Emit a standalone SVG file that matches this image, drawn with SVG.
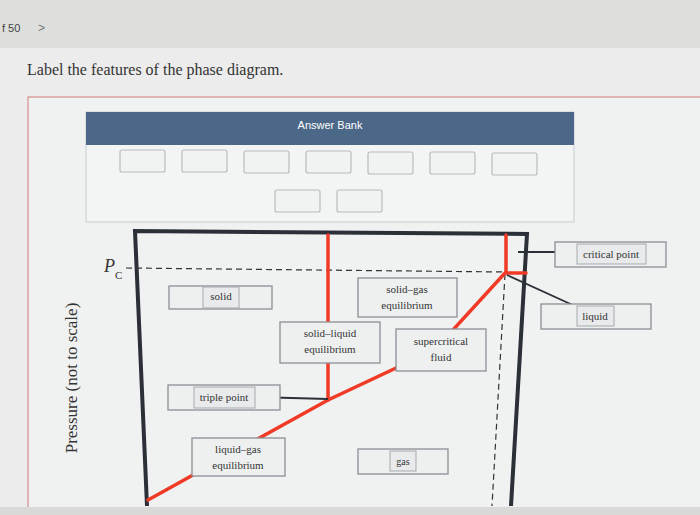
<svg xmlns="http://www.w3.org/2000/svg" width="700" height="515" viewBox="0 0 700 515">
<style>
.t{font-family:"Liberation Serif",serif;fill:#333}
.box{fill:#eef0f0;stroke:#8a9096;stroke-width:1.3}
.chip{fill:#e8eaeb;stroke:#a4aaae;stroke-width:1}
.bank{fill:#f1f2f2;stroke:#b8bcbf;stroke-width:1.2}
.red{stroke:#f03a26;stroke-width:3.5;fill:none;stroke-linecap:round}
.blk{stroke:#2a2f38;fill:none}
</style>
<rect width="700" height="515" fill="#e3e5e3"/>
<rect x="0" y="0" width="700" height="48" fill="#dedfdc"/>
<text x="2" y="32" font-family="Liberation Sans,sans-serif" font-size="11" fill="#444">f 50</text>
<text x="38" y="32" font-family="Liberation Sans,sans-serif" font-size="12" fill="#777">&gt;</text>
<rect x="0" y="48" width="700" height="462" fill="#ebeceb"/>
<text class="t" x="27" y="75" font-size="16">Label the features of the phase diagram.</text>
<rect x="28" y="97" width="680" height="420" fill="#f0f1f1" stroke="#d27a7a" stroke-width="1"/>
<g id="answer-bank">
<rect x="86" y="112" width="488" height="110" fill="#f3f4f4" stroke="#c8cbcd"/>
<rect x="86" y="112" width="488" height="33" fill="#4b6888"/>
<text x="330" y="129" font-family="Liberation Sans,sans-serif" font-size="11" fill="#fff" text-anchor="middle">Answer Bank</text>
<rect class="bank" x="120" y="150" width="45" height="22" rx="2"/>
<rect class="bank" x="182" y="150" width="45" height="22" rx="2"/>
<rect class="bank" x="244" y="151" width="45" height="22" rx="2"/>
<rect class="bank" x="306" y="151" width="45" height="22" rx="2"/>
<rect class="bank" x="368" y="152" width="45" height="22" rx="2"/>
<rect class="bank" x="430" y="152" width="45" height="22" rx="2"/>
<rect class="bank" x="492" y="153" width="45" height="22" rx="2"/>
<rect class="bank" x="275" y="190" width="45" height="22" rx="2"/>
<rect class="bank" x="337" y="190" width="45" height="22" rx="2"/>
</g>
<text class="t" font-size="17" transform="translate(77,378) rotate(-90)" text-anchor="middle">Pressure (not to scale)</text>
<g id="axes">
<path class="blk" stroke-width="4" d="M147,506 L135,231 L527,234 L511,506"/>
</g>
<g id="connectors">
<path d="M126,268 L505,272" stroke="#333" stroke-width="1.2" stroke-dasharray="6,4" fill="none"/>
<path d="M505,274 L492,506" stroke="#333" stroke-width="1.2" stroke-dasharray="6,4" fill="none"/>
<path class="red" d="M328,235 L328,400"/>
<path class="red" d="M148,500 L328,400 L396,368 L453,330 L505,273"/>
<path class="red" d="M506,235 L506,273 L526,273"/>
<path class="blk" stroke-width="2" d="M255,397 L328,399"/>
<path class="blk" stroke-width="2" d="M518,252 L577,252"/>
<path class="blk" stroke-width="1.8" d="M507,275 L577,307"/>
</g>
<text class="t" x="104" y="272" font-size="18" font-style="italic">P</text>
<text class="t" x="115" y="279" font-size="11">C</text>
<g id="critical-point"><rect class="box" x="555" y="242" width="111" height="25"/><rect class="chip" x="577" y="244" width="69" height="20"/><text class="t" x="611" y="258" font-size="11" text-anchor="middle">critical point</text></g>
<g id="liquid"><rect class="box" x="541" y="304" width="110" height="25"/><rect class="chip" x="577" y="306" width="37" height="20"/><text class="t" x="595" y="320" font-size="11" text-anchor="middle">liquid</text></g>
<g id="solid"><rect class="box" x="169" y="286" width="103" height="23"/><rect class="chip" x="203" y="287" width="36" height="21"/><text class="t" x="221" y="300" font-size="11" text-anchor="middle">solid</text></g>
<g id="solid-gas"><rect class="box" x="358" y="278" width="99" height="39"/><text class="t" x="407" y="293" font-size="11" text-anchor="middle">solid–gas</text><text class="t" x="407" y="309" font-size="11" text-anchor="middle">equilibrium</text></g>
<g id="solid-liquid"><rect class="box" x="280" y="322" width="100" height="41"/><text class="t" x="330" y="337" font-size="11" text-anchor="middle">solid–liquid</text><text class="t" x="330" y="353" font-size="11" text-anchor="middle">equilibrium</text></g>
<g id="supercritical"><rect class="box" x="396" y="329" width="90" height="42"/><text class="t" x="441" y="345" font-size="11" text-anchor="middle">supercritical</text><text class="t" x="441" y="361" font-size="11" text-anchor="middle">fluid</text></g>
<g id="triple-point"><rect class="box" x="168" y="385" width="112" height="25"/><rect class="chip" x="194" y="387" width="61" height="21"/><text class="t" x="224" y="401" font-size="11" text-anchor="middle">triple point</text></g>
<g id="liquid-gas"><rect class="box" x="192" y="438" width="93" height="38"/><text class="t" x="238" y="453" font-size="11" text-anchor="middle">liquid–gas</text><text class="t" x="238" y="469" font-size="11" text-anchor="middle">equilibrium</text></g>
<g id="gas"><rect class="box" x="358" y="449" width="90" height="25"/><rect class="chip" x="390" y="451" width="26" height="20"/><text class="t" x="403" y="465" font-size="10" text-anchor="middle">gas</text></g>
<rect x="0" y="507" width="700" height="8" fill="#d9dad8"/>
</svg>
